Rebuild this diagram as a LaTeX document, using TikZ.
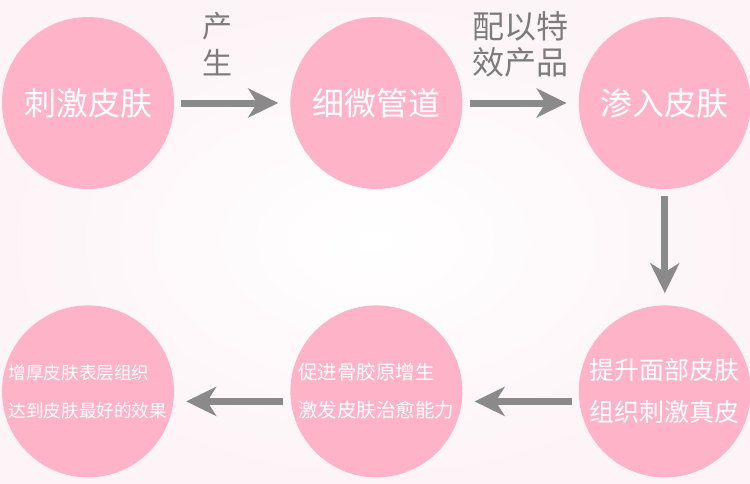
\documentclass[tikz,border=0pt]{standalone}
\usepackage{fontspec}
\setmainfont{Noto Sans CJK SC}
\usepackage{tikz}
\usetikzlibrary{arrows.meta,positioning}
\definecolor{blush}{HTML}{FFB3C8}
\definecolor{haze}{HTML}{FDF4F7}
\definecolor{slate}{HTML}{8A8A8A}
\definecolor{ink}{HTML}{7C7C7C}

\begin{document}
\begin{tikzpicture}[x=1pt,y=-1pt,
  bubble/.style={circle,fill=blush,minimum size=172pt,inner sep=0pt,text=white,align=center},
  flow/.style={draw=slate,line width=7pt,-{Stealth[length=30pt,width=29pt,inset=9pt]},shorten <=7pt,shorten >=12pt},
  tag/.style={text=ink,align=center}]
  \shade[inner color=white,outer color=haze] (0,0) rectangle (750,483);
  \useasboundingbox (0,0) rectangle (750,483);
  % top row
  \node[bubble,font=\fontsize{32}{36}\selectfont] (skin) at (88,103) {刺激皮肤};
  \node[bubble,font=\fontsize{32}{36}\selectfont,right=116pt of skin] (duct) {细微管道};
  \node[bubble,font=\fontsize{32}{36}\selectfont,right=116pt of duct] (absorb) {渗入皮肤};
  % bottom row
  \node[bubble,font=\fontsize{25}{42}\selectfont,below=116pt of absorb] (lift) {提升面部皮肤\\组织刺激真皮};
  \node[bubble,font=\fontsize{19.5}{38}\selectfont,align=left,left=116pt of lift] (collagen) {促进骨胶原增生\\激发皮肤治愈能力};
  \node[bubble,font=\fontsize{17.6}{38}\selectfont,align=left,left=116pt of collagen] (thicken) {增厚皮肤表层组织\\达到皮肤最好的效果};
  \draw[flow] (skin) -- (duct);
  \draw[flow] (duct) -- (absorb);
  \draw[flow] (absorb) -- (lift);
  \draw[flow] ([yshift=-10pt]lift.west) -- ([yshift=-10pt]collagen.east);
  \draw[flow] ([yshift=-10pt]collagen.west) -- ([yshift=-10pt]thicken.east);
  \node[tag,font=\fontsize{30}{37}\selectfont] (make) at (217,44) {产\\生};
  \node[tag,font=\fontsize{32}{36}\selectfont] (apply) at (520,44) {配以特\\效产品};
\end{tikzpicture}
\end{document}
